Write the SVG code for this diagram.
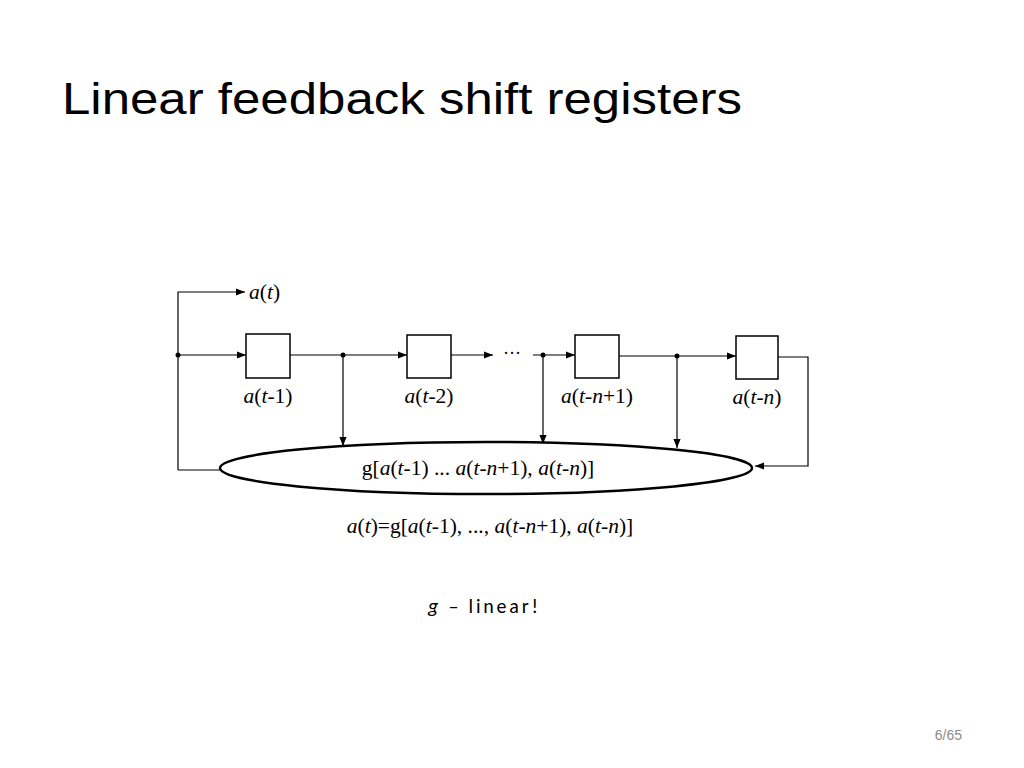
<svg xmlns="http://www.w3.org/2000/svg" width="1024" height="768" viewBox="0 0 1024 768">
<style>
.l{stroke:#000;stroke-width:1.2;fill:none}
.b{stroke:#000;stroke-width:1.5;fill:#fff}
.m{font-family:"Liberation Serif",serif;font-size:21.5px;fill:#000}
.i{font-style:italic}
</style>
<defs><marker id="a" viewBox="0 0 10 10" refX="10" refY="5" markerWidth="9" markerHeight="9" markerUnits="userSpaceOnUse" orient="auto"><path d="M0,1 L10,5 L0,9z" fill="#000"/></marker></defs>
<rect width="1024" height="768" fill="#fff"/>
<text x="62" y="114" font-family="Liberation Sans,sans-serif" font-size="44" fill="#000" textLength="680" lengthAdjust="spacingAndGlyphs">Linear feedback shift registers</text>
<g id="connectors">
<path class="l" d="M178,470 V292 H245" marker-end="url(#a)"/>
<path class="l" d="M178,355 H246" marker-end="url(#a)"/>
<path class="l" d="M290,355 H407" marker-end="url(#a)"/>
<path class="l" d="M451,355 H493" marker-end="url(#a)"/>
<path class="l" d="M533,355 H575" marker-end="url(#a)"/>
<path class="l" d="M619,356 H736" marker-end="url(#a)"/>
<path class="l" d="M778,357 H808 V466 H755" marker-end="url(#a)"/>
<path class="l" d="M178,470 H221"/>
<path class="l" d="M343,355 V446" marker-end="url(#a)"/>
<path class="l" d="M543,355 V444" marker-end="url(#a)"/>
<path class="l" d="M677,356 V448" marker-end="url(#a)"/>
<circle cx="178" cy="355" r="2.5"/><circle cx="343" cy="355" r="2.5"/><circle cx="543" cy="355" r="2.5"/><circle cx="677" cy="356" r="2.5"/>
</g>
<text x="503" y="359" font-family="Liberation Serif,serif" font-size="18">···</text>
<g id="r1"><rect class="b" x="246" y="334" width="44" height="44"/><text class="m" x="268" y="403" text-anchor="middle"><tspan class="i">a</tspan>(<tspan class="i">t</tspan>-1)</text></g>
<g id="r2"><rect class="b" x="407" y="335" width="44" height="43"/><text class="m" x="429" y="403" text-anchor="middle"><tspan class="i">a</tspan>(<tspan class="i">t</tspan>-2)</text></g>
<g id="r3"><rect class="b" x="575" y="335" width="44" height="43"/><text class="m" x="597" y="403" text-anchor="middle"><tspan class="i">a</tspan>(<tspan class="i">t</tspan>-<tspan class="i">n</tspan>+1)</text></g>
<g id="r4"><rect class="b" x="736" y="336" width="42" height="43"/><text class="m" x="757" y="404" text-anchor="middle"><tspan class="i">a</tspan>(<tspan class="i">t</tspan>-<tspan class="i">n</tspan>)</text></g>
<text class="m" x="249" y="299"><tspan class="i">a</tspan>(<tspan class="i">t</tspan>)</text>
<g id="g"><ellipse cx="486" cy="468" rx="266" ry="26" fill="#fff" stroke="#000" stroke-width="2.5"/>
<text class="m" x="478" y="475" text-anchor="middle">g[<tspan class="i">a</tspan>(<tspan class="i">t</tspan>-1) ... <tspan class="i">a</tspan>(<tspan class="i">t</tspan>-<tspan class="i">n</tspan>+1), <tspan class="i">a</tspan>(<tspan class="i">t</tspan>-<tspan class="i">n</tspan>)]</text></g>
<text class="m" x="490" y="533" text-anchor="middle"><tspan class="i">a</tspan>(<tspan class="i">t</tspan>)=g[<tspan class="i">a</tspan>(<tspan class="i">t</tspan>-1), ..., <tspan class="i">a</tspan>(<tspan class="i">t</tspan>-<tspan class="i">n</tspan>+1), <tspan class="i">a</tspan>(<tspan class="i">t</tspan>-<tspan class="i">n</tspan>)]</text>
<text x="428" y="613" font-family="Carlito,'Open Sans',sans-serif" font-size="20" textLength="110" lengthAdjust="spacing"><tspan font-style="italic">g</tspan> – linear!</text>
<text x="962" y="740" text-anchor="end" font-family="Liberation Sans,sans-serif" font-size="14" fill="#8c8c8c">6/65</text>
</svg>
